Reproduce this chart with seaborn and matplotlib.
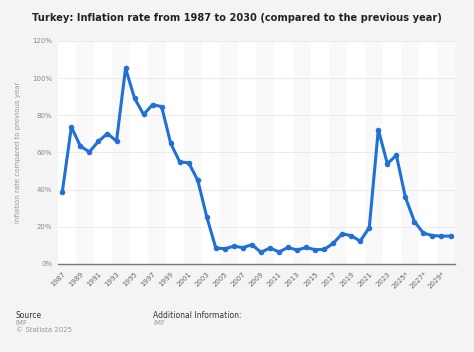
import matplotlib
matplotlib.use("Agg")
import matplotlib.pyplot as plt
import seaborn as sns
import pandas as pd
import numpy as np

# Data

years = list(range(1987, 2031))
inflation = [38.9, 73.7, 63.3, 60.3, 66.0, 70.1, 66.1, 105.2, 89.1, 80.4,
             85.7, 84.6, 64.9, 54.9, 54.4, 45.0, 25.3, 8.6, 8.2, 9.6,
             8.8, 10.4, 6.3, 8.6, 6.5, 8.9, 7.5, 8.9, 7.7, 7.8,
             11.1, 16.3, 15.2, 12.3, 19.6, 72.3, 53.9, 58.5, 35.9, 22.8,
             16.6, 15.3, 15.0, 15.0]
tickYears = list(range(1987, 2031, 2))
tickLabels = [str(y) + ('*' if y >= 2025 else '') for y in tickYears]
yTicks = [0, 20, 40, 60, 80, 100, 120]

df = pd.DataFrame({"Year": years, "Inflation": inflation})

sns.set_style("white")
plt.rcParams['font.family'] = ['DejaVu Sans']

bg = '#f4f4f4'
blue = '#2170d6'

fig = plt.figure(figsize=(4.74, 3.52), dpi=100, facecolor=bg)
ax = fig.add_axes([0.122, 0.25, 0.838, 0.634])
ax.set_facecolor('white')

# alternating background stripes, two years each
for i, y in enumerate(tickYears):
  if i % 2 == 1:
    ax.axvspan(y - 0.5, y + 1.5, color='#f9f9f9', zorder=0, lw=0)

for t in yTicks[1:]:
  ax.axhline(t, color='#e8e8e8', lw=0.6, zorder=1)

sns.lineplot(ax=ax, data=df, x="Year", y="Inflation", color=blue, linewidth=2.2,
             marker='o', markersize=4, markeredgewidth=0, zorder=3)

ax.set_xlim(1986.5, 2030.5)
ax.set_ylim(0, 120)
ax.set_xticks(tickYears)
ax.set_xticklabels(tickLabels, rotation=45, ha='right', rotation_mode='anchor',
                   fontsize=5, color='#666666')
ax.set_yticks(yTicks)
ax.set_yticklabels([str(t) + '%' for t in yTicks], fontsize=5, color='#888888')
ax.tick_params(axis='both', length=0, pad=4)
ax.tick_params(axis='x', pad=5)
for side in ['top', 'right', 'left']:
  ax.spines[side].set_visible(False)
ax.spines['bottom'].set_color('#777777')
ax.spines['bottom'].set_linewidth(1.0)

ax.set_xlabel('')
ax.set_ylabel('Inflation rate compared to previous year', fontsize=5, color='#999999', labelpad=8)

fig.text(0.5, 0.948, 'Turkey: Inflation rate from 1987 to 2030 (compared to the previous year)',
         ha='center', va='center', fontsize=7.1, fontweight='bold', color='#222222')

fig.text(0.033, 0.105, 'Source', fontsize=5.5, color='#333333', va='center')
fig.text(0.033, 0.083, 'IMF', fontsize=5, color='#999999', va='center')
fig.text(0.033, 0.062, '© Statista 2025', fontsize=5, color='#999999', va='center')
fig.text(0.323, 0.105, 'Additional Information:', fontsize=5.5, color='#333333', va='center')
fig.text(0.323, 0.083, 'IMF', fontsize=5, color='#999999', va='center')

fig.savefig('out.png', dpi=100, facecolor=bg)
